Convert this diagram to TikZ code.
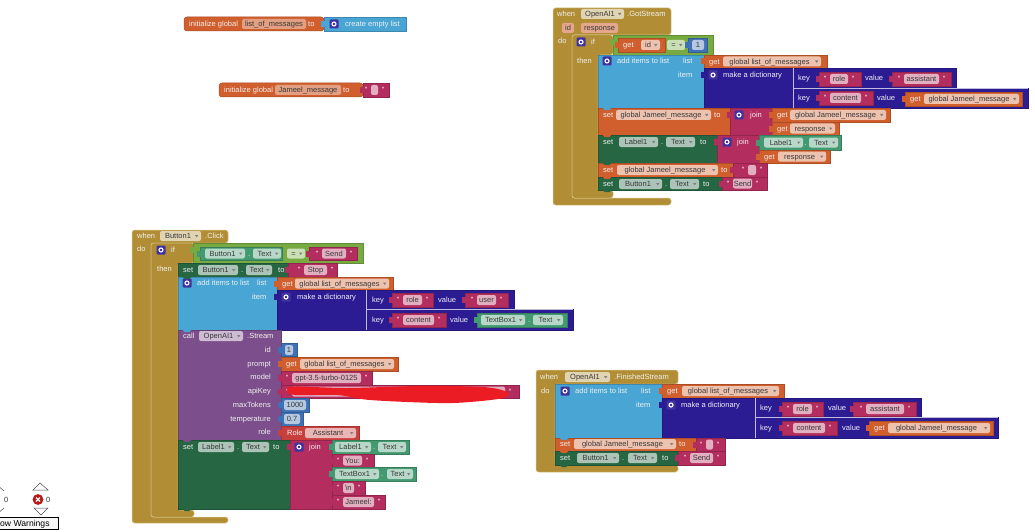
\documentclass[tikz,border=0pt]{standalone}
\usepackage{fontspec}
\setmainfont{Liberation Sans}
\definecolor{cMust}{HTML}{B18E35}
\definecolor{cMustL}{HTML}{D9C68F}
\definecolor{cOr}{HTML}{D05F2D}
\definecolor{cBlue}{HTML}{49A6D4}
\definecolor{cInd}{HTML}{2C1C94}
\definecolor{cMag}{HTML}{B32D5E}
\definecolor{cDG}{HTML}{266643}
\definecolor{cG}{HTML}{439970}
\definecolor{cLG}{HTML}{77AB41}
\definecolor{cNum}{HTML}{3F71B5}
\definecolor{cPur}{HTML}{7C4F8C}
\definecolor{cRole}{HTML}{C8403E}
\definecolor{cRed}{HTML}{EC1C24}
\tikzset{
  tx/.style={font=\fontsize{7.5}{8}\selectfont,inner sep=0pt,yshift=-2.6pt},
  lab/.style={tx,text=white!88!gray,anchor=base west},
  labr/.style={tx,text=white!88!gray,anchor=base east},
  pilltext/.style={tx,text=black!78,anchor=base},
  pillbg/.style={fill=white,fill opacity=.62,rounded corners=2pt},
  bk/.style={draw=#1!82!black,line width=.5pt,fill=#1},
  must/.style={fill=cMust,draw=cMustL,line width=.5pt,rounded corners=2.5pt},
}
% block: colour, x1,y1,x2,y2
\newcommand\Bk[5]{\path[bk=#1] (#2,#3) rectangle (#4,#5);}
% labels
\newcommand\Lb[3]{\node[lab] at (#1,#2) {#3};}
\newcommand\Lr[3]{\node[labr] at (#1,#2) {#3};}
% plain pill and pill with drop-down mark
\newcommand\Pl[4]{\path[pillbg] (#1,#3-5) rectangle (#2,#3+5);
  \node[pilltext] at ({(#1+#2)/2},#3) {#4};}
\newcommand\Pd[4]{\path[pillbg] (#1,#3-5) rectangle (#2,#3+5);
  \node[pilltext] at ({(#1+#2)/2-2.5},#3) {#4};
  \fill[black!50] (#2-6,#3-1) -- (#2-2.6,#3-1) -- (#2-4.3,#3+1.4) -- cycle;}
% tab of a socket
\newcommand\Tb[3]{\fill[#3] (#1-3,#2-3) rectangle (#1+.5,#2+3);}
% notch under a stacked block
\newcommand\Nt[3]{\fill[#3] (#1+4,#2-.5) -- (#1+14,#2-.5) -- (#1+11,#2+2.2) -- (#1+7,#2+2.2) -- cycle;}
% mutator gear
\newcommand\Gr[2]{\fill[cInd!90!white,rounded corners=1pt] (#1-4.5,#2-4.5) rectangle (#1+4.5,#2+4.5);
  \draw[white,line width=1.1pt] (#1,#2) circle (2pt);}
% string block: x1 y1 x2 y2 px1 px2 text
\newcommand\Str[7]{\pgfmathsetmacro\ym{(#2+#4)/2}
  \Bk{cMag}{#1}{#2}{#3}{#4}\Tb{#1}{\ym}{cMag}
  \node[tx,text=white,anchor=base] at (#5-5,\ym) {"};
  \node[tx,text=white,anchor=base] at (#6+5,\ym) {"};
  \Pl{#5}{#6}{\ym}{#7}}
% variable getter
\newcommand\Get[7]{\pgfmathsetmacro\ym{(#2+#4)/2}
  \Bk{cOr}{#1}{#2}{#3}{#4}\Tb{#1}{\ym}{cOr}
  \Lb{#1+5}{\ym}{get}\Pd{#5}{#6}{\ym}{#7}}
% component property getter: x1 y1 x2 y2 a1 a2 name b1 b2
\newcommand\Prop[9]{\pgfmathsetmacro\ym{(#2+#4)/2}
  \Bk{cG}{#1}{#2}{#3}{#4}\Tb{#1}{\ym}{cG}
  \Pd{#5}{#6}{\ym}{#7}\Pd{#8}{#9}{\ym}{Text}}
% mustard event / if shape
\newcommand\Ev[7]{\path[must] (#1,#2) -- (#3,#2) -- (#3,#4) -- (#5,#4) -- (#5,#6) -- (#3,#6) -- (#3,#7) -- (#1,#7) -- cycle;}
\begin{document}
\begin{tikzpicture}[x=1pt,y=-1pt]
\useasboundingbox (0,0) rectangle (1035,532);
\fill[white] (0,0) rectangle (1035,532);

% ===== global initialisers =====
\path[bk=cOr,rounded corners=3pt] (184,17) rectangle (324,31);
\Lb{189}{24}{initialize global}
\path[fill=white,fill opacity=.4,rounded corners=2pt] (242,19) rectangle (306,29);
\node[pilltext] at (274,24) {list\_of\_messages};
\Lb{308}{24}{to}
\Bk{cBlue}{324}{17}{406}{31}\Tb{324}{24}{cBlue}
\Gr{334}{24}
\Lb{345}{24}{create empty list}

\path[bk=cOr,rounded corners=3pt] (219,83) rectangle (363,97);
\Lb{224}{90}{initialize global}
\path[fill=white,fill opacity=.4,rounded corners=2pt] (275,85) rectangle (341,95);
\node[pilltext] at (308,90) {Jameel\_message};
\Lb{343}{90}{to}
\Str{363}{83}{389}{97}{371}{378}{}

% ===== when OpenAI1.GotStream =====
\Ev{553}{8}{671}{35}{572}{198}{205}
\Lb{557}{14}{when}\Pd{581}{624}{14}{OpenAI1}\Lb{627}{14}{.GotStream}
\path[fill=cOr!55!white,rounded corners=2pt] (562,23) rectangle (574,33);
\node[pilltext] at (568,28) {id};
\path[fill=cOr!55!white,rounded corners=2pt] (581,23) rectangle (618,33);
\node[pilltext] at (599.5,28) {response};
\Lb{558}{41}{do}
\Ev{572}{35}{613}{55}{598}{190}{198}
\Gr{581}{42}\Lb{591}{42}{if}\Lb{577}{61}{then}
\Bk{cLG}{613}{35}{713}{55}\Tb{613}{42}{cLG}
\Get{618}{38}{665}{52}{641}{660}{id}
\Pd{667}{685}{45}{=}
\Bk{cNum}{688}{38}{707}{52}\Tb{688}{45}{cNum}\Pl{692}{704}{45}{1}
% add items to list
\Bk{cBlue}{598}{55}{704}{108}
\Gr{607}{61}\Lb{617}{61}{add items to list}
\Lb{683}{61}{list}\Lb{678}{75}{item}
\Get{704}{55}{827}{68}{723}{821}{global list\_of\_messages}
% dictionary
\Bk{cInd}{704}{68}{956}{88}\Bk{cInd}{704}{88}{1028}{108}
\Bk{cInd}{704}{68}{793}{108}\Tb{704}{75}{cInd}
\Gr{713}{75}\Lb{723}{75}{make a dictionary}
\draw[white!70!cInd,line width=.4pt] (793,68) -- (793,108) (793,88) -- (1028,88);
\Lb{798}{78}{key}\Lb{798}{98}{key}
\Str{819}{72}{861}{86}{830}{848}{role}
\Lb{865}{78}{value}
\Str{892}{72}{951}{86}{904}{939}{assistant}
\Str{819}{91}{873}{105}{830}{861}{content}
\Lb{877}{98}{value}
\Get{905}{92}{1022}{106}{924}{1019}{global Jameel\_message}
% set Jameel
\Bk{cOr}{598}{108}{730}{135}
\Lb{603}{115}{set}\Pd{616}{711}{115}{global Jameel\_message}\Lb{714}{115}{to}
\Bk{cMag}{730}{108}{772}{135}\Tb{730}{115}{cMag}
\Gr{739}{115}\Lb{750}{115}{join}
\Get{772}{108}{890}{122}{790}{886}{global Jameel\_message}
\Get{772}{122}{839}{135}{790}{835}{response}
% set Label1
\Bk{cDG}{598}{135}{717}{163}
\Lb{603}{142}{set}\Pd{619}{658}{142}{Label1}\Lb{661}{142}{.}\Pd{666}{695}{142}{Text}\Lb{700}{142}{to}
\Bk{cMag}{717}{135}{759}{163}\Tb{717}{142}{cMag}
\Gr{727}{142}\Lb{737}{142}{join}
\Prop{759}{135}{841}{150}{764}{803}{Label1}{809}{838}
\Lb{804.5}{142.5}{.}
\Get{759}{150}{830}{163}{778}{826}{response}
% set Jameel again
\Bk{cOr}{598}{163}{733}{177}
\Lb{603}{170}{set}\Pd{617}{718}{170}{global Jameel\_message}\Lb{721}{170}{to}
\Str{733}{163}{767}{177}{748}{756}{}
% set Button1
\Bk{cDG}{598}{177}{722}{190}
\Lb{603}{184}{set}\Pd{619}{662}{184}{Button1}\Lb{665}{184}{.}\Pd{670}{699}{184}{Text}\Lb{703}{184}{to}
\Str{722}{177}{767}{190}{733}{752}{Send}
\Nt{598}{108}{cBlue}\Nt{598}{135}{cOr}\Nt{598}{163}{cDG}\Nt{598}{177}{cOr}\Nt{598}{190}{cDG}

% ===== when Button1.Click =====
\Ev{132}{230}{228}{243}{151}{517}{523}
\Lb{137}{236}{when}\Pd{160}{201}{236}{Button1}\Lb{205}{236}{.Click}
\Lb{137}{249}{do}
\Ev{151}{243}{194}{263}{178}{510}{517}
\Gr{161}{250}\Lb{171}{250}{if}\Lb{157}{269}{then}
\Bk{cLG}{193}{243}{363}{263}\Tb{193}{250}{cLG}
\Prop{200}{247}{282}{260}{205}{245}{Button1}{253}{281}
\Lb{248}{253.5}{.}
\Pd{287}{305}{253.5}{=}
\Str{309}{247}{357}{260}{322}{346}{Send}
% set Button1 Stop
\Bk{cDG}{178}{263}{288}{277}
\Lb{183}{270}{set}\Pd{198}{238}{270}{Button1}\Lb{241}{270}{.}\Pd{246}{272}{270}{Text}\Lb{278}{270}{to}
\Str{288}{263}{337}{277}{304}{327}{Stop}
% add items
\Bk{cBlue}{178}{277}{277}{330}
\Gr{187}{283}\Lb{197}{283}{add items to list}
\Lb{257}{283}{list}\Lb{252}{297}{item}
\Get{277}{277}{393}{290}{295}{389}{global list\_of\_messages}
\Bk{cInd}{277}{290}{514}{309}\Bk{cInd}{277}{309}{573}{330}
\Bk{cInd}{277}{290}{366}{330}\Tb{277}{297}{cInd}
\Gr{286}{297}\Lb{297}{297}{make a dictionary}
\draw[white!70!cInd,line width=.4pt] (366,290) -- (366,330) (366,309) -- (573,309);
\Lb{372}{300}{key}\Lb{372}{320}{key}
\Str{392}{293}{433}{307}{403}{422}{role}
\Lb{438}{300}{value}
\Str{465}{293}{508}{307}{477}{496}{user}
\Str{392}{313}{446}{327}{403}{434}{content}
\Lb{450}{320}{value}
\Prop{477}{313}{567}{327}{481}{525}{TextBox1}{533}{563}
\Lb{528}{320}{.}
% call Stream
\Bk{cPur}{178}{330}{281}{440}
\Lb{183}{336}{call}\Pd{199}{243}{336}{OpenAI1}\Lb{247}{336}{.Stream}
\Lr{271}{350}{id}\Lr{271}{364}{prompt}\Lr{271}{377}{model}\Lr{271}{391}{apiKey}
\Lr{271}{405}{maxTokens}\Lr{271}{419}{temperature}\Lr{271}{432}{role}
\Bk{cNum}{281}{343}{297}{356}\Tb{281}{350}{cNum}\Pl{285}{293}{350}{1}
\Get{281}{357}{398}{371}{300}{394}{global list\_of\_messages}
\Str{281}{371}{372}{385}{292}{361}{gpt-3.5-turbo-0125}
\Str{281}{385}{519}{398}{292}{505}{}
\Bk{cNum}{281}{398}{309}{412}\Tb{281}{405}{cNum}\Pl{284}{306}{405}{1000}
\Bk{cNum}{281}{412}{303}{426}\Tb{281}{419}{cNum}\Pl{284}{300}{419}{0.7}
\Bk{cRole}{281}{426}{359}{440}\Tb{281}{433}{cRole}
\Lb{287}{433}{Role}\Pd{305}{356}{433}{Assistant}
% red scribble over the key
\fill[cRed] plot[smooth cycle,tension=.55] coordinates {(287,390) (295,386.5) (347,388) (420,386) (483,387) (507,392) (503,398) (470,402) (437,403) (370,400) (337,395) (295,395)};
% set Label1 join
\Bk{cDG}{178}{440}{290}{509}
\Lb{183}{447}{set}\Pd{198}{234}{447}{Label1}\Lb{237}{447}{.}\Pd{242}{269}{447}{Text}\Lb{273}{447}{to}
\Bk{cMag}{290}{440}{332}{509}\Tb{290}{447}{cMag}
\Gr{299}{447}\Lb{309}{447}{join}
\Prop{332}{440}{409}{454}{335}{371}{Label1}{378}{406}
\Lb{373}{447}{.}
\Str{332}{454}{374}{467}{343}{362}{You:}
\Prop{332}{467}{416}{481}{335}{379}{TextBox1}{387}{413}
\Lb{381}{474}{.}
\Str{332}{481}{365}{495}{343}{354}{\textbackslash n}
\Str{332}{495}{385}{509}{343}{374}{Jameel:}
\Nt{178}{277}{cDG}\Nt{178}{330}{cBlue}\Nt{178}{440}{cPur}\Nt{178}{509}{cDG}

% ===== when OpenAI1.FinishedStream =====
\Ev{536}{370}{678}{384}{555}{465}{472}
\Lb{540}{377}{when}\Pd{565}{610}{377}{OpenAI1}\Lb{614}{377}{.FinishedStream}
\Lb{541}{391}{do}
\Bk{cBlue}{555}{384}{662}{438}
\Gr{565}{391}\Lb{575}{391}{add items to list}
\Lb{641}{391}{list}\Lb{636}{405}{item}
\Get{662}{384}{784}{398}{682}{779}{global list\_of\_messages}
\Bk{cInd}{662}{398}{921}{417}\Bk{cInd}{662}{417}{998}{438}
\Bk{cInd}{662}{398}{755}{438}\Tb{662}{405}{cInd}
\Gr{671}{405}\Lb{681}{405}{make a dictionary}
\draw[white!70!cInd,line width=.4pt] (755,398) -- (755,438) (755,417) -- (998,417);
\Lb{760}{408}{key}\Lb{760}{428}{key}
\Str{782}{402}{823}{416}{793}{812}{role}
\Lb{828}{408}{value}
\Str{853}{402}{916}{416}{866}{904}{assistant}
\Str{782}{421}{837}{435}{793}{825}{content}
\Lb{842}{428}{value}
\Get{869}{421}{993}{435}{888}{990}{global Jameel\_message}
\Bk{cOr}{555}{438}{696}{451}
\Lb{560}{444}{set}\Pd{574}{676}{444}{global Jameel\_message}\Lb{679}{444}{to}
\Str{696}{438}{725}{451}{706}{713}{}
\Bk{cDG}{555}{451}{678}{465}
\Lb{560}{458}{set}\Pd{577}{619}{458}{Button1}\Lb{622}{458}{.}\Pd{628}{657}{458}{Text}\Lb{662}{458}{to}
\Str{678}{451}{725}{465}{690}{713}{Send}
\Nt{555}{438}{cBlue}\Nt{555}{451}{cOr}\Nt{555}{465}{cDG}

% ===== warnings indicator =====
\draw[black!70,line width=.5pt,fill=white] (33,490) -- (40,483) -- (48,490) -- cycle;
\draw[black!70,line width=.5pt,fill=white] (34,508) -- (41,515) -- (48,508) -- cycle;
\fill[red!70!black!90!white] (38,499.5) circle (5.4pt);
\draw[white,line width=1.1pt] (36,497.5) -- (40,501.5) (40,497.5) -- (36,501.5);
\node[tx,text=black!80,anchor=base west] at (46,500) {0};
\draw[black!70,line width=.5pt] (-4,491) -- (0,487.5) -- (4,491);
\draw[black!70,line width=.5pt] (-4,508) -- (0,511.5) -- (4,508);
\node[tx,text=black!80,anchor=base west] at (4,500) {0};
\draw[black,line width=.7pt,fill=black!3] (-3,517) rectangle (58.5,529);
\node[font=\fontsize{8.6}{9}\selectfont,inner sep=0pt,anchor=base west,text=black] at (0,526) {ow Warnings};
\end{tikzpicture}
\end{document}
